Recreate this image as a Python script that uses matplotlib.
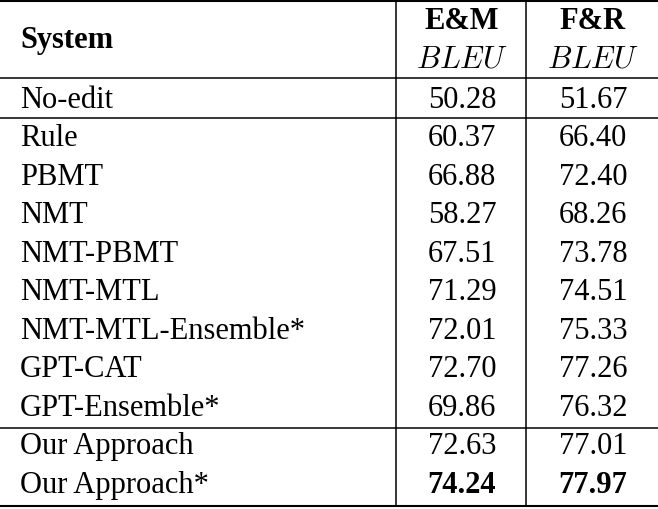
import matplotlib
matplotlib.use("Agg")
import matplotlib.pyplot as plt

# ---------------- Dados da tabela ----------------
systems = ["No-edit", "Rule", "PBMT", "NMT", "NMT-PBMT", "NMT-MTL",
           "NMT-MTL-Ensemble*", "GPT-CAT", "GPT-Ensemble*",
           "Our Approach", "Our Approach*"]
em_bleu = [50.28, 60.37, 66.88, 58.27, 67.51, 71.29, 72.01, 72.70, 69.86, 72.63, 74.24]
fr_bleu = [51.67, 66.40, 72.40, 68.26, 73.78, 74.51, 75.33, 77.26, 76.32, 77.01, 77.97]
columns = ["E&M", "F&R"]
metric = "BLEU"
bold_rows = ["Our Approach*"]

plt.rcParams['font.family'] = ['Liberation Serif', 'DejaVu Serif']
plt.rcParams['mathtext.fontset'] = 'cm'

fig = plt.figure(figsize=(6.58, 5.10), dpi=100)
ax = fig.add_axes([0, 0, 1, 1])
ax.set_xlim(0, 658)
ax.set_ylim(510, 0)
ax.axis('off')

fs = 22
col_x = [462, 593]
left_x = 20
base0 = 108
row_h = 38.5

# cabeçalho
ax.text(left_x, 48, "System", fontsize=fs, fontweight='bold', va='baseline', ha='left')
for cx, name in zip(col_x, columns):
    ax.text(cx, 29, name, fontsize=fs, fontweight='bold', va='baseline', ha='center')
    ax.text(cx, 67, f"${metric}$", fontsize=fs, va='baseline', ha='center')

# linhas da tabela
for i, (s, a, b) in enumerate(zip(systems, em_bleu, fr_bleu)):
    y = base0 + i * row_h
    w = 'bold' if s in bold_rows else 'normal'
    ax.text(left_x, y, s, fontsize=fs, va='baseline', ha='left')
    ax.text(col_x[0], y, f"{a:.2f}", fontsize=fs, va='baseline', ha='center', fontweight=w)
    ax.text(col_x[1], y, f"{b:.2f}", fontsize=fs, va='baseline', ha='center', fontweight=w)

# regras
ax.hlines([2, 507], 0, 658, color='black', lw=1.5)
ax.hlines([79, 119, 429], 0, 658, color='black', lw=1.1)
ax.vlines([396, 526], 2, 507, color='black', lw=1.1)

fig.savefig("out.png", dpi=100)
